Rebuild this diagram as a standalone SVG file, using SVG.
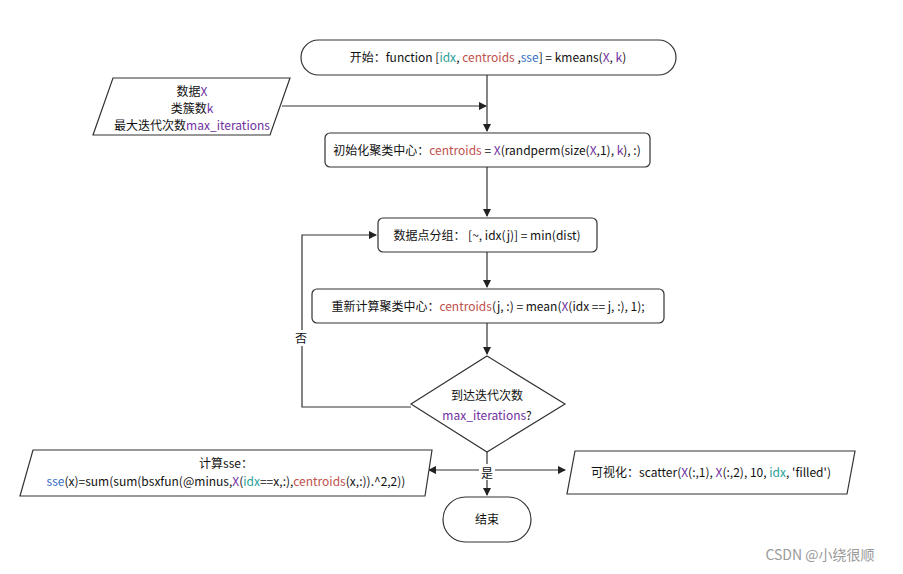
<svg xmlns="http://www.w3.org/2000/svg" width="903" height="574" viewBox="0 0 903 574">
<style>
text{font-family:"Microsoft YaHei","Noto Sans CJK SC","Noto Sans",sans-serif;font-size:12px;fill:#111}
.s{fill:#fff;stroke:#333;stroke-width:1.2}
.c{fill:none;stroke:#333;stroke-width:1.2}
.t{fill:#2aa198}.r{fill:#c0504d}.b{fill:#3a6fc4}.p{fill:#7030a0}
</style>
<defs><marker id="a" viewBox="0 0 8 8" refX="7" refY="4" markerWidth="7" markerHeight="7" orient="auto"><path d="M0,0 L8,4 L0,8 z" fill="#222"/></marker></defs>
<rect width="903" height="574" fill="#fff"/>
<g id="connectors">
<path class="c" d="M487,75 V131" marker-end="url(#a)"/>
<path class="c" d="M282,106 H486" marker-end="url(#a)"/>
<path class="c" d="M487,167 V216" marker-end="url(#a)"/>
<path class="c" d="M487,252 V287" marker-end="url(#a)"/>
<path class="c" d="M487,323 V354" marker-end="url(#a)"/>
<path class="c" d="M411,407 H302 V235 H376" marker-end="url(#a)"/>
<path class="c" d="M487,452 V495" marker-end="url(#a)"/>
<path class="c" d="M487,470 H429" marker-end="url(#a)"/>
<path class="c" d="M487,470 H565" marker-end="url(#a)"/>
<rect x="293" y="330" width="16" height="16" fill="#fff"/>
<text x="301" y="343" text-anchor="middle">否</text>
<rect x="479" y="464" width="16" height="16" fill="#fff"/>
<text x="487" y="478" text-anchor="middle">是</text>
</g>
<g id="start"><rect class="s" x="301" y="40" width="375" height="35" rx="17.5"/>
<text x="488" y="62" text-anchor="middle">开始：function [<tspan class="t">idx</tspan>, <tspan class="r">centroids</tspan> ,<tspan class="b">sse</tspan>] = kmeans(<tspan class="p">X</tspan>, <tspan class="p">k</tspan>)</text></g>
<g id="input"><path class="s" d="M113,78 H290 L270,135 H93 Z"/>
<text x="192" y="96" text-anchor="middle">数据<tspan class="p">X</tspan></text>
<text x="192" y="113" text-anchor="middle">类簇数<tspan class="p">k</tspan></text>
<text x="192" y="130" text-anchor="middle">最大迭代次数<tspan class="p">max_iterations</tspan></text></g>
<g id="init"><rect class="s" x="325" y="133" width="325" height="34" rx="5"/>
<text x="487" y="155" text-anchor="middle">初始化聚类中心：<tspan class="r">centroids</tspan> = <tspan class="p">X</tspan>(randperm(size(<tspan class="p">X</tspan>,1), <tspan class="p">k</tspan>), :)</text></g>
<g id="assign"><rect class="s" x="378" y="218" width="219" height="34" rx="5"/>
<text x="487" y="240" text-anchor="middle">数据点分组： [~, idx(j)] = min(dist)</text></g>
<g id="update"><rect class="s" x="312" y="289" width="352" height="34" rx="5"/>
<text x="488" y="311" text-anchor="middle">重新计算聚类中心：<tspan class="r">centroids</tspan>(j, :) = mean(<tspan class="p">X</tspan>(idx == j, :), 1);</text></g>
<g id="decision"><path class="s" d="M487,356 L565,404 L487,452 L411,404 Z"/>
<text x="487" y="400" text-anchor="middle">到达迭代次数</text>
<text x="487" y="420" text-anchor="middle"><tspan class="p">max_iterations</tspan>?</text></g>
<g id="sse"><path class="s" d="M33,450 H432 L425,496 H20 Z"/>
<text x="226" y="468" text-anchor="middle">计算sse：</text>
<text x="226" y="486" text-anchor="middle"><tspan class="b">sse</tspan>(x)=sum(sum(bsxfun(@minus,<tspan class="p">X</tspan>(<tspan class="t">idx</tspan>==x,:),<tspan class="r">centroids</tspan>(x,:)).^2,2))</text></g>
<g id="viz"><path class="s" d="M575,451 H855 L847,494 H567 Z"/>
<text x="711" y="477" text-anchor="middle">可视化：scatter(<tspan class="p">X</tspan>(:,1), <tspan class="p">X</tspan>(:,2), 10, <tspan class="t">idx</tspan>, 'filled')</text></g>
<g id="end"><rect class="s" x="443" y="497" width="88" height="45" rx="22.5"/>
<text x="487" y="524" text-anchor="middle">结束</text></g>
<text x="820" y="560" text-anchor="middle" style="font-size:14px;fill:#999">CSDN @小绕很顺</text>
</svg>
